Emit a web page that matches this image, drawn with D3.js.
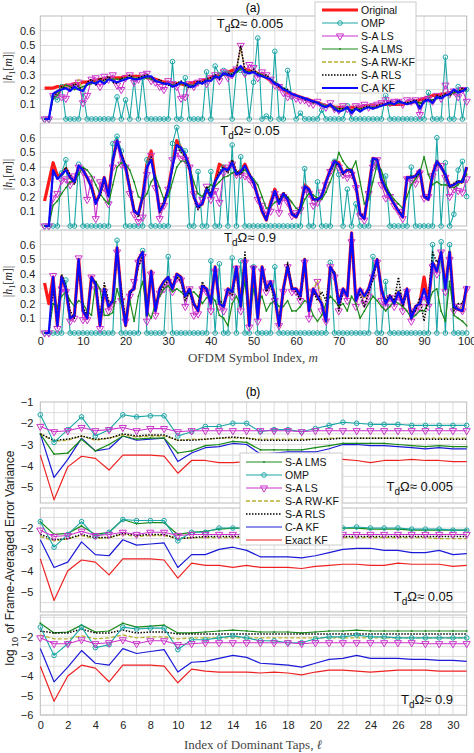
<!DOCTYPE html>
<html>
<head>
<meta charset="utf-8">
<script src="https://cdn.jsdelivr.net/npm/d3@7"></script>
<style>
  body { margin: 0; background: #fff; }
  svg { font-family: "Liberation Sans", Arial, sans-serif; }
</style>
</head>
<body>
<svg id="chart"></svg>
<script>
const width = 474;
const height = 753;

// ---- panel (a) data: |h1[m]| in hundredths, m = 1..100 ----
const symbolIndex = d3.range(1, 101);

const origA1 = [21,21,21,22,22,23,23,24,24,25, 25,26,26,27,27,28,28,28,28,29, 29,29,29,29,28,28,27,26,25,25, 24,24,24,23,24,25,25,26,27,28, 29,30,31,32,33,34,35,34,33,32, 31,30,28,26,24,22,20,18,17,16, 15,14,13,12,11,10,9,9,8,8, 8,8,8,8,8,9,9,9,9,10, 10,10,10,10,10,11,11,12,13,14, 15,16,16,17,17,18,18,19,20,20];
const ompA1 = [0,0,15,13,22,0,0,0,0,18, 0,0,0,0,0,0,0,15,0,13, 0,27,0,28,0,0,0,0,0,0, 39,0,0,28,0,0,0,0,32,0, 36,30,33,31,0,33,33,31,0,25, 55,0,2,0,46,0,0,33,15,0, 4,0,0,0,0,6,0,0,0,0, 0,9,0,0,0,0,0,0,0,0, 16,0,0,0,0,0,0,0,0,0, 18,0,0,0,42,0,0,22,0,20];
const lsA1 = [0,0,16,17,15,14,22,23,25,11, 16,27,28,22,29,27,30,23,20,28, 30,25,27,30,31,26,25,22,20,26, 24,22,14,15,24,22,25,26,24,28, 30,26,32,28,30,34,50,31,37,35, 28,32,30,27,23,22,18,15,16,14, 13,13,11,10,12,9,8,11,7,6, 9,7,5,9,8,10,8,9,10,11, 13,11,12,12,10,13,12,13,3,13, 14,12,16,14,23,17,19,15,20,12];
const lmsA1 = [0,0,14,16,21,23,22,20,21,22, 23,24,25,26,26,27,27,27,27,28, 28,28,28,28,28,27,26,25,24,24, 23,23,24,24,23,23,24,25,26,27, 28,29,30,30,31,32,34,33,32,32, 31,30,28,27,25,23,21,19,17,16, 15,14,13,12,11,10,9,9,8,7, 7,7,6,7,7,7,8,8,8,9, 10,10,10,11,11,11,11,12,11,12, 13,13,14,15,16,16,18,18,19,20];
const rwkfA1 = [0,0,16,18,21,22,20,23,27,19, 24,26,24,27,26,28,26,25,27,27, 29,28,28,29,30,28,26,26,24,24, 22,24,25,24,22,23,25,25,26,27, 29,28,31,30,30,33,48,33,31,33, 31,29,29,27,25,22,21,19,17,16, 15,14,13,11,11,9,8,10,7,6, 7,8,5,8,6,8,9,7,9,10, 10,11,10,12,11,11,12,12,9,12, 13,12,15,15,17,16,19,18,20,20];
const rlsA1 = [0,0,15,18,22,21,20,24,22,19, 25,27,23,28,26,29,25,24,28,27, 30,27,28,29,30,28,25,27,24,23, 22,24,26,23,21,23,26,25,27,28, 30,27,31,31,30,33,50,33,31,34, 31,29,30,27,25,22,21,20,17,16, 15,13,13,11,12,9,8,10,6,7, 7,8,5,8,6,8,9,7,9,10, 10,12,10,13,11,11,12,13,9,13, 13,12,16,15,17,16,19,18,21,20];
const cakfA1 = [0,0,17,19,20,21,19,22,20,19, 24,25,24,26,24,27,26,25,26,27, 28,27,27,28,29,29,26,25,24,24, 22,23,25,24,22,22,25,24,26,26, 29,28,31,30,29,33,36,32,31,32, 30,29,28,27,24,23,20,19,17,16, 15,14,13,12,11,9,8,10,7,5, 6,8,4,7,5,7,8,7,8,9, 10,11,10,12,11,10,11,12,7,12, 13,11,15,14,16,17,20,18,19,21];

const origA2 = [17,30,43,34,35,39,33,30,40,38, 33,27,16,22,33,21,45,58,48,40, 25,10,8,20,42,51,30,10,15,25, 42,58,53,48,40,20,13,15,25,20, 30,42,40,38,44,35,38,42,35,30, 20,10,4,16,25,16,22,18,8,6, 12,28,25,18,18,20,30,38,44,43, 36,38,38,28,8,5,25,46,45,32, 25,20,15,10,6,33,33,34,38,20, 18,35,44,40,35,27,28,30,30,40];
const ompA2 = [0,0,0,0,36,45,0,0,42,0, 0,0,0,0,0,0,56,61,51,0, 0,0,0,0,45,0,0,0,0,0, 56,67,52,51,0,0,37,0,0,37, 0,0,40,0,55,0,47,0,0,0, 0,0,0,0,0,0,0,0,0,0, 0,39,0,0,30,0,0,0,44,35, 0,25,0,15,0,0,0,44,40,34, 34,0,0,0,0,0,40,0,0,0, 0,0,60,0,43,0,8,38,44,20];
const lsA2 = [0,0,19,22,31,32,28,34,40,37, 18,32,5,30,26,15,40,56,42,40, 22,8,3,6,35,48,26,5,14,25, 45,50,46,45,40,22,14,18,27,18, 24,16,36,40,42,35,35,34,32,28, 18,14,8,10,22,9,20,16,7,9, 11,25,22,14,16,23,28,37,42,40, 35,33,35,26,7,4,22,40,45,28, 19,20,14,10,5,32,31,29,36,19, 20,34,40,41,33,20,25,24,23,32];
const lmsA2 = [0,0,14,17,22,26,30,31,35,40, 38,34,28,22,18,15,28,40,43,42, 38,30,20,18,22,30,34,26,18,20, 30,40,44,44,40,30,22,20,25,28, 27,30,33,34,36,37,36,38,35,32, 28,20,12,13,16,18,20,20,16,12, 10,18,22,21,19,18,23,30,38,50, 44,40,38,44,30,15,18,30,42,38, 28,22,18,15,12,20,28,32,36,47, 35,28,30,28,28,27,26,28,32,35];
const rwkfA2 = [0,0,37,33,35,39,34,29,40,38, 33,26,16,21,32,21,44,57,49,40, 26,11,7,20,41,46,31,10,16,25, 40,55,51,47,39,20,12,15,26,21, 30,36,39,37,44,36,36,40,35,30, 20,10,5,15,24,16,22,18,8,6, 12,27,25,18,18,20,30,37,44,42, 36,38,37,28,8,5,25,45,45,31, 25,20,15,10,6,33,33,34,38,20, 18,35,43,40,34,27,28,30,30,39];
const rlsA2 = [0,0,36,33,34,40,35,28,40,39, 32,27,17,20,31,22,43,57,50,41, 27,12,6,19,40,47,32,9,17,26, 39,56,50,47,38,19,11,16,27,22, 31,37,40,36,45,37,35,40,36,29, 21,11,5,14,23,17,23,19,9,7, 13,26,24,19,17,21,29,37,43,41, 35,39,36,27,9,6,24,44,46,30, 26,21,14,11,7,32,34,33,37,21, 19,36,42,41,33,26,29,31,29,38];
const cakfA2 = [0,0,38,32,35,38,33,30,41,38, 33,26,15,22,33,20,45,58,48,40, 25,10,8,20,40,45,30,10,15,25, 40,55,53,48,40,20,13,15,25,20, 30,35,39,38,43,35,37,41,35,30, 20,10,4,15,24,15,22,18,8,6, 12,27,25,18,18,20,30,38,44,42, 36,38,38,28,8,5,25,46,45,32, 25,20,15,10,6,33,33,34,38,20, 18,35,44,40,35,27,28,30,30,40];

const origA3 = [34,20,38,5,38,30,10,12,50,15, 10,38,33,5,30,18,22,58,25,5, 28,30,50,55,12,42,15,30,35,38, 30,40,38,25,30,20,15,32,30,20, 45,20,18,30,28,45,18,50,5,45, 10,45,30,35,25,5,30,45,30,30, 25,50,15,30,25,20,8,45,40,20, 30,25,68,22,30,25,30,40,50,30, 20,25,20,28,20,30,10,18,20,38, 20,48,42,55,30,55,18,16,15,32];
const ompA3 = [0,0,0,0,0,36,0,0,0,0, 0,0,0,0,0,0,0,63,0,0, 0,0,0,56,0,0,0,0,0,52, 0,0,0,0,0,0,0,0,0,49, 0,47,0,0,51,0,49,0,0,45, 0,0,0,0,45,0,0,0,0,0, 0,0,0,0,0,0,0,48,0,0, 0,0,0,0,0,0,0,52,0,0, 35,0,0,0,0,0,0,0,0,0, 0,60,0,62,0,60,0,0,0,0];
const lsA3 = [0,0,39,3,30,28,8,10,51,9, 9,38,30,3,28,15,20,55,22,8, 25,35,48,52,8,40,12,27,30,35, 28,37,36,18,30,12,13,30,28,15, 42,18,15,28,25,44,15,48,4,44, 8,42,28,34,22,5,28,45,28,28, 22,48,10,28,35,15,8,45,38,15, 28,22,62,18,28,20,25,38,48,22, 18,24,18,25,15,28,8,15,18,25, 18,45,40,55,28,50,15,18,15,30];
const lmsA3 = [0,0,20,18,25,28,22,18,22,20, 15,12,35,30,12,12,14,30,20,10, 22,8,25,35,15,10,20,25,30,32, 28,30,28,25,27,28,25,20,24,25, 22,12,10,5,20,25,18,35,10,30, 20,25,15,20,22,18,18,22,15,15, 18,22,20,12,8,12,20,25,22,18, 20,15,25,20,10,15,20,25,22,18, 15,18,22,20,18,15,10,12,15,15, 20,28,30,15,8,35,12,10,8,5];
const rwkfA3 = [0,0,34,8,38,30,12,12,48,16, 11,37,33,8,32,20,22,56,27,6, 27,31,48,54,13,41,16,29,34,37, 30,39,36,24,29,19,16,33,29,21, 44,21,19,29,27,44,19,52,6,44, 11,44,29,34,24,6,29,46,31,29, 24,49,16,29,36,22,10,44,40,19, 29,26,65,23,28,23,29,38,50,29, 21,25,21,30,19,29,12,17,22,22, 21,48,44,54,31,53,17,17,17,31];
const rlsA3 = [0,0,30,10,40,32,15,10,45,18, 12,35,35,10,34,22,20,55,30,8, 25,32,45,52,15,40,18,28,32,36, 32,38,35,22,28,18,18,35,28,22, 42,22,20,28,26,42,20,55,8,42, 12,42,28,32,22,8,28,48,32,28, 22,48,18,28,22,28,22,40,42,15, 28,28,62,24,26,18,28,36,50,28, 22,26,22,38,18,28,14,15,24,8, 25,55,48,52,32,50,15,20,20,30];
const cakfA3 = [0,0,38,5,38,30,10,12,50,15, 10,38,33,5,30,18,22,58,25,5, 28,30,50,55,12,42,15,30,35,38, 30,40,38,25,30,20,15,32,30,20, 45,20,18,30,28,45,18,50,5,45, 10,45,30,35,25,5,30,45,30,30, 25,50,15,30,25,20,8,45,40,20, 30,25,68,22,30,25,30,40,50,30, 20,25,20,28,20,30,10,18,20,30, 20,48,42,55,30,55,18,16,15,32];

const yTicksA = [0.1, 0.2, 0.3, 0.4, 0.5, 0.6];
const xTicksA = [0, 10, 20, 30, 40, 50, 60, 70, 80, 90, 100];

// ---- panel (b) data: log10 error variance, l = 0..31 ----
const tapIndex = d3.range(0, 32);

const lmsB1 = [-2.5,-3.45,-3.4,-2.75,-3.3,-3.0,-2.6,-2.75,-2.7,-2.7,-3.4,-3.3,-3.05,-3.0,-2.85,-2.9,-3.25,-3.25,-3.25,-3.25,-3.15,-3.05,-2.95,-2.95,-2.95,-2.95,-3.0,-3.05,-3.1,-3.05,-3.1,-3.1];
const ompB1 = [-1.6,-2.9,-2.3,-1.7,-2.6,-2.3,-1.6,-1.7,-1.65,-1.65,-2.6,-2.4,-2.15,-2.15,-2.0,-2.0,-2.4,-2.3,-2.3,-2.4,-2.25,-2.1,-1.95,-2.0,-2.05,-2.05,-2.05,-2.1,-2.1,-2.1,-2.1,-2.1];
const lsB1 = [-2.15,-2.4,-2.35,-2.2,-2.35,-2.3,-2.2,-2.35,-2.25,-2.25,-2.4,-2.35,-2.35,-2.35,-2.35,-2.35,-2.35,-2.35,-2.35,-2.4,-2.35,-2.35,-2.35,-2.35,-2.35,-2.35,-2.35,-2.35,-2.35,-2.35,-2.35,-2.35];
const rwkfB1 = [-2.5,-2.85,-2.8,-2.6,-2.8,-2.7,-2.55,-2.65,-2.6,-2.6,-2.8,-2.75,-2.75,-2.7,-2.7,-2.7,-2.75,-2.75,-2.75,-2.75,-2.75,-2.7,-2.7,-2.7,-2.7,-2.7,-2.7,-2.7,-2.7,-2.7,-2.7,-2.7];
const rlsB1 = [-2.5,-2.8,-2.75,-2.6,-2.75,-2.7,-2.5,-2.6,-2.55,-2.55,-2.8,-2.8,-2.75,-2.7,-2.65,-2.7,-2.8,-2.8,-2.8,-2.8,-2.75,-2.75,-2.7,-2.7,-2.7,-2.7,-2.7,-2.75,-2.75,-2.75,-2.75,-2.75];
const cakfB1 = [-2.5,-4.55,-3.7,-2.7,-3.3,-3.2,-2.6,-2.8,-2.75,-2.7,-3.8,-3.4,-3.15,-3.1,-2.95,-3.0,-3.45,-3.4,-3.35,-3.35,-3.35,-3.2,-3.0,-3.0,-3.05,-3.05,-3.1,-3.15,-3.2,-3.15,-3.2,-3.2];
const exactB1 = [-3.5,-5.6,-4.05,-3.55,-3.65,-4.2,-3.5,-3.5,-3.5,-3.55,-4.35,-3.75,-3.75,-3.85,-3.85,-3.8,-3.8,-3.8,-3.8,-3.8,-3.7,-3.7,-3.7,-3.75,-3.85,-3.75,-3.75,-3.7,-3.75,-3.75,-3.8,-3.8];

const lmsB2 = [-1.7,-2.3,-2.25,-1.9,-2.3,-2.2,-1.6,-1.8,-1.75,-1.75,-2.3,-2.2,-2.15,-2.05,-2.0,-2.0,-2.05,-2.05,-2.05,-2.05,-2.05,-2.0,-2.0,-2.0,-2.05,-2.05,-2.05,-2.1,-2.1,-2.1,-2.1,-2.1];
const ompB2 = [-1.7,-2.9,-2.3,-1.7,-2.4,-2.2,-1.6,-1.65,-1.65,-1.65,-2.6,-2.2,-2.2,-2.0,-2.0,-2.0,-2.1,-2.1,-2.1,-2.1,-2.0,-2.0,-2.0,-1.95,-2.0,-2.0,-2.0,-2.05,-2.05,-2.05,-2.1,-2.1];
const lsB2 = [-2.1,-2.4,-2.35,-2.15,-2.35,-2.3,-2.2,-2.3,-2.2,-2.2,-2.35,-2.3,-2.3,-2.3,-2.3,-2.3,-2.3,-2.3,-2.3,-2.3,-2.3,-2.3,-2.3,-2.3,-2.3,-2.3,-2.3,-2.3,-2.3,-2.3,-2.3,-2.3];
const rwkfB2 = [-2.4,-2.6,-2.5,-2.35,-2.5,-2.45,-2.3,-2.4,-2.35,-2.35,-2.5,-2.45,-2.45,-2.45,-2.45,-2.45,-2.45,-2.45,-2.45,-2.45,-2.45,-2.45,-2.45,-2.45,-2.45,-2.45,-2.45,-2.45,-2.45,-2.5,-2.5,-2.5];
const rlsB2 = [-2.3,-2.55,-2.5,-2.3,-2.45,-2.45,-2.25,-2.35,-2.3,-2.3,-2.5,-2.45,-2.4,-2.4,-2.4,-2.4,-2.4,-2.4,-2.4,-2.4,-2.4,-2.4,-2.4,-2.4,-2.4,-2.4,-2.4,-2.4,-2.4,-2.4,-2.4,-2.4];
const cakfB2 = [-2.55,-3.85,-3.6,-2.65,-3.25,-3.3,-2.55,-2.8,-2.75,-2.7,-3.85,-3.25,-3.25,-3.0,-2.9,-3.05,-3.35,-3.35,-3.35,-3.4,-3.3,-3.15,-3.0,-2.95,-2.95,-3.05,-3.05,-3.15,-3.15,-3.05,-3.25,-3.2];
const exactB2 = [-3.45,-5.4,-4.0,-3.5,-3.6,-4.2,-3.45,-3.45,-3.45,-3.5,-4.35,-3.65,-3.75,-3.75,-3.85,-3.75,-3.85,-3.85,-3.85,-3.9,-3.8,-3.75,-3.7,-3.7,-3.75,-3.75,-3.65,-3.7,-3.7,-3.7,-3.8,-3.75];

const lmsB3 = [-1.3,-1.8,-1.75,-1.4,-1.75,-1.7,-1.3,-1.5,-1.45,-1.4,-1.8,-1.8,-1.75,-1.7,-1.65,-1.7,-1.75,-1.75,-1.75,-1.8,-1.75,-1.7,-1.7,-1.65,-1.7,-1.7,-1.7,-1.7,-1.7,-1.7,-1.7,-1.7];
const ompB3 = [-1.5,-2.95,-2.35,-1.5,-2.55,-2.4,-1.5,-1.6,-1.55,-1.55,-2.65,-2.15,-2.15,-2.05,-1.95,-2.05,-2.2,-2.2,-2.3,-2.3,-2.1,-2.0,-2.0,-1.9,-2.0,-2.0,-2.05,-2.05,-2.05,-2.05,-2.05,-2.05];
const lsB3 = [-2.05,-2.35,-2.35,-2.15,-2.35,-2.3,-2.15,-2.35,-2.2,-2.2,-2.4,-2.35,-2.3,-2.3,-2.3,-2.3,-2.3,-2.3,-2.3,-2.35,-2.3,-2.3,-2.3,-2.3,-2.3,-2.3,-2.3,-2.3,-2.35,-2.35,-2.35,-2.35];
const rwkfB3 = [-1.9,-2.1,-2.1,-1.95,-2.1,-2.05,-1.9,-2.05,-2.0,-2.0,-2.1,-2.05,-2.05,-2.05,-2.05,-2.05,-2.05,-2.05,-2.05,-2.05,-2.05,-2.05,-2.05,-2.05,-2.05,-2.05,-2.05,-2.05,-2.05,-2.05,-2.05,-2.05];
const rlsB3 = [-1.7,-1.8,-1.8,-1.6,-1.8,-1.8,-1.65,-1.8,-1.75,-1.75,-1.85,-1.85,-1.85,-1.85,-1.85,-1.85,-1.85,-1.85,-1.85,-1.85,-1.85,-1.85,-1.85,-1.85,-1.85,-1.85,-1.85,-1.85,-1.85,-1.85,-1.85,-1.85];
const cakfB3 = [-2.6,-4.3,-3.55,-2.7,-3.35,-3.45,-2.6,-2.85,-2.75,-2.65,-3.8,-3.3,-3.25,-3.1,-2.95,-3.05,-3.35,-3.4,-3.45,-3.55,-3.35,-3.15,-3.1,-2.95,-3.1,-3.1,-3.1,-3.15,-3.15,-3.2,-3.2,-3.25];
const exactB3 = [-3.5,-5.3,-4.0,-3.45,-3.6,-4.3,-3.45,-3.45,-3.45,-3.5,-4.35,-3.65,-3.75,-3.8,-3.8,-3.8,-3.85,-3.8,-3.85,-3.95,-3.8,-3.7,-3.7,-3.75,-3.8,-3.75,-3.7,-3.7,-3.7,-3.75,-3.75,-3.75];

const xTicksB = d3.range(0, 31, 2);

// series styles
const styles = {
  orig:  { name: "Original", color: "#ff1a1a", width: 3.2 },
  omp:   { name: "OMP", color: "#1aa6a6", width: 1.1, marker: "circle" },
  ls:    { name: "S-A LS", color: "#cc33cc", width: 1.1, marker: "tri" },
  lms:   { name: "S-A LMS", color: "#1a8a1a", width: 1.2, marker: "dot" },
  rwkf:  { name: "S-A RW-KF", color: "#b8b030", width: 1.3, dash: "4,2" },
  rls:   { name: "S-A RLS", color: "#000", width: 1.5, dash: "1.5,1.5" },
  cakf:  { name: "C-A KF", color: "#0a0aff", width: 2.2 },
  cakfB: { name: "C-A KF", color: "#1a1ad8", width: 1.2 },
  exact: { name: "Exact KF", color: "#ee2222", width: 1.2 }
};
const serif = "'Liberation Serif', 'DejaVu Serif', serif";

const svg = d3.select("#chart").attr("width", width).attr("height", height);

function drawMarkers(g, pts, st, x, y) {
  if (st.marker === "circle") {
    g.selectAll(null).data(pts).join("circle")
      .attr("cx", d => x(d[0])).attr("cy", d => y(d[1])).attr("r", 2.3)
      .attr("fill", "none").attr("stroke", st.color).attr("stroke-width", 1);
  } else if (st.marker === "tri") {
    const tri = d3.symbol(d3.symbolTriangle, 22);
    g.selectAll(null).data(pts).join("path")
      .attr("d", tri)
      .attr("transform", d => `translate(${x(d[0])},${y(d[1])}) rotate(180)`)
      .attr("fill", "none").attr("stroke", st.color).attr("stroke-width", 1);
  } else if (st.marker === "dot") {
    g.selectAll(null).data(pts).join("circle")
      .attr("cx", d => x(d[0])).attr("cy", d => y(d[1])).attr("r", 0.9)
      .attr("fill", st.color);
  }
}

function drawSeries(g, xs, vals, st, x, y, scaleK) {
  const pts = xs.map((v, i) => [v, vals[i] * scaleK]);
  const line = d3.line().x(d => x(d[0])).y(d => y(d[1]));
  g.append("path").datum(pts)
    .attr("fill", "none").attr("stroke", st.color).attr("stroke-width", st.width)
    .attr("stroke-dasharray", st.dash || null)
    .attr("stroke-linejoin", "round")
    .attr("d", line);
  drawMarkers(g, pts, st, x, y);
}

function legendSample(g, st, x0, yy, len) {
  g.append("line").attr("x1", x0).attr("x2", x0 + len).attr("y1", yy).attr("y2", yy)
    .attr("stroke", st.color).attr("stroke-width", st.width).attr("stroke-dasharray", st.dash || null);
  drawMarkers(g, [[x0 + len / 2, yy]], st, d => d, d => d);
  g.append("text").attr("x", x0 + len + 3).attr("y", yy + 4).attr("font-size", 10.5).attr("fill", "#111").text(st.name);
}

function tdLabel(g, xx, yy, val, anchor) {
  const t = g.append("text").attr("x", xx).attr("y", yy).attr("font-size", 13).attr("text-anchor", anchor).attr("fill", "#111");
  t.append("tspan").text("T");
  t.append("tspan").attr("dy", 4).attr("font-size", 10).text("d");
  t.append("tspan").attr("dy", -4).text("Ω≈ " + val);
}

// ---------- panel (a) ----------
const xA = d3.scaleLinear().domain([0, 100]).range([40.3, 466.7]);
const panelsA = [
  { top: 16, bottom: 119, td: "0.005", series: [origA1, ompA1, lsA1, lmsA1, rwkfA1, rlsA1, cakfA1] },
  { top: 123, bottom: 226, td: "0.05", series: [origA2, ompA2, lsA2, lmsA2, rwkfA2, rlsA2, cakfA2] },
  { top: 230, bottom: 333, td: "0.9", series: [origA3, ompA3, lsA3, lmsA3, rwkfA3, rlsA3, cakfA3] }
];
const keysA = ["orig", "omp", "ls", "lms", "rwkf", "rls", "cakf"];

panelsA.forEach((p, pi) => {
  const y = d3.scaleLinear().domain([0, 0.7]).range([p.bottom, p.top]);
  const g = svg.append("g");
  g.append("g").selectAll(null).data(d3.range(5, 100, 5)).join("line")
    .attr("x1", d => xA(d)).attr("x2", d => xA(d)).attr("y1", p.top).attr("y2", p.bottom)
    .attr("stroke", "#dcdcdc");
  g.append("g").selectAll(null).data(yTicksA).join("line")
    .attr("x1", xA(0)).attr("x2", xA(100)).attr("y1", d => y(d)).attr("y2", d => y(d))
    .attr("stroke", "#dcdcdc");
  g.append("rect").attr("x", xA(0)).attr("y", p.top).attr("width", xA(100) - xA(0)).attr("height", p.bottom - p.top)
    .attr("fill", "none").attr("stroke", "#bbb");
  p.series.forEach((vals, i) => drawSeries(g, symbolIndex, vals, styles[keysA[i]], xA, y, 0.01));
  g.append("g").attr("transform", `translate(${xA(0)},0)`)
    .call(d3.axisLeft(y).tickValues(yTicksA).tickSize(0).tickPadding(5).tickFormat(d3.format(".1f")))
    .call(a => a.select(".domain").remove())
    .selectAll("text").attr("font-size", 11).attr("fill", "#222");
  const yl = g.append("text").attr("transform", `translate(12,${(p.top + p.bottom) / 2}) rotate(-90)`)
    .attr("text-anchor", "middle").style("font-family", serif).attr("font-size", 12).attr("fill", "#222");
  yl.append("tspan").text("|");
  yl.append("tspan").attr("font-style", "italic").text("h");
  yl.append("tspan").attr("dy", 3).attr("font-size", 8).text("1");
  yl.append("tspan").attr("dy", -3).text("[");
  yl.append("tspan").attr("font-style", "italic").text("m");
  yl.append("tspan").text("]|");
  tdLabel(g, 250, p.top + 12, p.td, "middle");
  if (pi === 2) {
    g.append("g").attr("transform", `translate(0,${p.bottom})`)
      .call(d3.axisBottom(xA).tickValues(xTicksA).tickSize(0).tickPadding(4))
      .call(a => a.select(".domain").remove())
      .selectAll("text").attr("font-size", 11).attr("fill", "#222");
  }
});

svg.append("text").attr("x", 253).attr("y", 362).attr("text-anchor", "middle")
  .style("font-family", serif).attr("font-size", 13).attr("fill", "#444")
  .text("OFDM Symbol Index, ").append("tspan").attr("font-style", "italic").text("m");
svg.append("text").attr("x", 253).attr("y", 12).attr("text-anchor", "middle").attr("font-size", 12).text("(a)");

// legend (a)
const legA = svg.append("g");
legA.append("rect").attr("x", 315).attr("y", 2).attr("width", 101).attr("height", 91)
  .attr("fill", "#fff").attr("stroke", "#ccc");
keysA.forEach((k, i) => legendSample(legA, styles[k], 322, 10 + i * 13, 36));

// ---------- panel (b) ----------
const xB = d3.scaleLinear().domain([0, 31]).range([40.3, 466.7]);
const panelsB = [
  { top: 402, bottom: 503, domain: [-5.75, -1], ticks: [-1, -2, -3, -4, -5], td: "0.005", tdY: 491,
    series: { lms: lmsB1, omp: ompB1, ls: lsB1, rwkf: rwkfB1, rls: rlsB1, cakfB: cakfB1, exact: exactB1 } },
  { top: 508, bottom: 612, domain: [-5.94, -1.06], ticks: [-2, -3, -4, -5], td: "0.05", tdY: 601,
    series: { lms: lmsB2, omp: ompB2, ls: lsB2, rwkf: rwkfB2, rls: rlsB2, cakfB: cakfB2, exact: exactB2 } },
  { top: 615, bottom: 715, domain: [-6, -0.88], ticks: [-2, -3, -4, -5, -6], td: "0.9", tdY: 704,
    series: { lms: lmsB3, omp: ompB3, ls: lsB3, rwkf: rwkfB3, rls: rlsB3, cakfB: cakfB3, exact: exactB3 } }
];
const drawOrderB = ["exact", "cakfB", "lms", "rwkf", "rls", "omp", "ls"];

panelsB.forEach((p, pi) => {
  const y = d3.scaleLinear().domain(p.domain).range([p.bottom, p.top]);
  const g = svg.append("g");
  const gridY = d3.range(Math.ceil(p.domain[0] * 2) / 2, p.domain[1], 0.5);
  g.append("g").selectAll(null).data(d3.range(1, 31)).join("line")
    .attr("x1", d => xB(d)).attr("x2", d => xB(d)).attr("y1", p.top).attr("y2", p.bottom)
    .attr("stroke", "#dcdcdc");
  g.append("g").selectAll(null).data(gridY).join("line")
    .attr("x1", xB(0)).attr("x2", xB(31)).attr("y1", d => y(d)).attr("y2", d => y(d))
    .attr("stroke", "#dcdcdc");
  g.append("rect").attr("x", xB(0)).attr("y", p.top).attr("width", xB(31) - xB(0)).attr("height", p.bottom - p.top)
    .attr("fill", "none").attr("stroke", "#bbb");
  drawOrderB.forEach(k => drawSeries(g, tapIndex, p.series[k], styles[k], xB, y, 1));
  g.append("g").attr("transform", `translate(${xB(0)},0)`)
    .call(d3.axisLeft(y).tickValues(p.ticks).tickSize(0).tickPadding(7).tickFormat(d3.format("d")))
    .call(a => a.select(".domain").remove())
    .selectAll("text").attr("font-size", 11).attr("fill", "#222");
  tdLabel(g, 453, p.tdY, p.td, "end");
  if (pi === 2) {
    g.append("g").attr("transform", `translate(0,${p.bottom})`)
      .call(d3.axisBottom(xB).tickValues(xTicksB).tickSize(0).tickPadding(6))
      .call(a => a.select(".domain").remove())
      .selectAll("text").attr("font-size", 11).attr("fill", "#222");
  }
});

svg.append("text").attr("x", 253).attr("y", 749).attr("text-anchor", "middle").attr("font-size", 12).text("");
svg.append("text").attr("x", 253).attr("y", 396).attr("text-anchor", "middle").attr("font-size", 12).text("(b)");
svg.append("text").attr("x", 253).attr("y", 749).attr("text-anchor", "middle")
  .style("font-family", serif).attr("font-size", 13).attr("fill", "#444")
  .text("Index of Dominant Taps, ").append("tspan").attr("font-style", "italic").text("ℓ");
const ylB = svg.append("text").attr("transform", "translate(14,558) rotate(-90)")
  .attr("text-anchor", "middle").attr("font-size", 12).attr("fill", "#222");
ylB.append("tspan").text("log");
ylB.append("tspan").attr("dy", 4).attr("font-size", 9).text(" 10");
ylB.append("tspan").attr("dy", -4).text(" of Frame-Averaged Error Variance");

// legend (b)
const legB = svg.append("g");
legB.append("rect").attr("x", 240).attr("y", 453).attr("width", 102).attr("height", 92)
  .attr("fill", "#fff").attr("stroke", "#ccc");
["lms", "omp", "ls", "rwkf", "rls", "cakfB", "exact"].forEach((k, i) =>
  legendSample(legB, styles[k], 246, 462 + i * 13, 36));
</script>
</body>
</html>
